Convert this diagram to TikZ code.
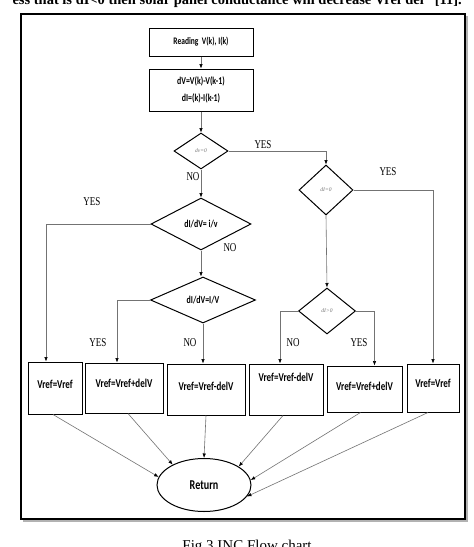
\documentclass[tikz,border=0pt]{standalone}
\usepackage{fontspec}
\setmainfont{Liberation Serif}
\newfontfamily\calib{Carlito}
\usetikzlibrary{shapes.geometric,arrows.meta}
\newcommand\sq[1]{\scalebox{0.75}[1]{#1}}
\newcommand\bt[2]{\raisebox{#1}[\height][\depth]{\sq{#2}}}
\tikzset{
  box/.style={draw=black, line width=1pt, rectangle, inner sep=0pt, font=\calib\bfseries\fontsize{12}{14}\selectfont},
  dia/.style={draw=black, line width=1pt, diamond, inner sep=0pt},
  tiny/.style={font=\itshape\fontsize{5.5}{6}\selectfont, text=black!55},
  conn/.style={draw=black!55, line width=0.6pt, -{Latex[length=4.5pt,width=3.5pt,color=black]}},
  lbl/.style={font=\fontsize{12}{14}\selectfont, inner sep=0pt},
}
\begin{document}
\begin{tikzpicture}[x=1pt,y=-1pt]
\clip (0,0) rectangle (474,547);
\fill[white] (0,0) rectangle (474,547);
% clipped text lines
\node[anchor=base east, inner sep=0pt, font=\bfseries\fontsize{14.5}{15}\selectfont] (toptext) at (462,4)
  {ess that is dI<0 then solar panel conductance will decrease Vref del" [11].};
\node[anchor=base, inner sep=0pt, font=\fontsize{15}{16}\selectfont] (caption) at (247,550) {Fig 3 INC Flow chart};
% frame with shadow
\draw[black!30, line width=2.5pt] (24,17) rectangle (467,521);
\draw[black, line width=1.5pt, fill=white] (21,14) rectangle (465,519);
% process boxes
\node[box, minimum width=104, minimum height=28, font=\calib\bfseries\fontsize{10}{12}\selectfont] (read) at (201,42) {\sq{Reading~ V(k), I(k)}};
\node[box, minimum width=104, minimum height=42, align=center, font=\calib\bfseries\fontsize{10.5}{17}\selectfont] (dv) at (201,90) {\sq{dV=V(k)-V(k-1)}\\\sq{dI=(k)-I(k-1)}};
% decisions
\node[dia, minimum width=54, minimum height=36, tiny] (d1) at (201,151) {dv=0};
\node[dia, minimum width=54, minimum height=50, tiny] (d2) at (326,190) {dI=0};
\node[dia, minimum width=100, minimum height=52, font=\calib\bfseries\fontsize{10.5}{12}\selectfont] (d3) at (201,224) {\sq{dI/dV= i/v}};
\node[dia, minimum width=105, minimum height=46, font=\calib\bfseries\fontsize{10.5}{12}\selectfont] (d4) at (203,300) {\sq{dI/dV=I/V}};
\node[dia, minimum width=57, minimum height=46, tiny] (d5) at (327,311) {dI>0};
% result boxes
\node[box, minimum width=54, minimum height=52] (b1) at (55,388) {\bt{4pt}{Vref=Vref}};
\node[box, minimum width=78, minimum height=50] (b2) at (124,388) {\bt{5pt}{Vref=Vref+delV}};
\node[box, minimum width=78, minimum height=51] (b3) at (206,389.5) {\bt{3pt}{Vref=Vref-delV}};
\node[box, minimum width=74, minimum height=51] (b4) at (286,389.5) {\bt{12pt}{Vref=Vref-delV}};
\node[box, minimum width=75, minimum height=46] (b5) at (364.5,389) {\bt{3pt}{Vref=Vref+delV}};
\node[box, minimum width=52, minimum height=48] (b6) at (433,388) {\bt{5pt}{Vref=Vref}};
\node[draw=black, line width=1pt, ellipse, inner sep=0pt, minimum width=94, minimum height=53, font=\calib\bfseries\fontsize{13.5}{14}\selectfont] (ret) at (204,485) {\sq{Return}};
% connectors
\draw[conn] (read) -- (dv);
\draw[conn] (dv) -- (d1);
\draw[conn] (d1.east) -| (d2.north);
\draw[conn] (d1.south) -- (d3.north);
\draw[conn] (d3.west) -| ([xshift=-9pt]b1.north);
\draw[conn] (d3.south) -- (d3.south |- d4.north);
\draw[conn] (d4.west) -| ([xshift=-7pt]b2.north);
\draw[conn] (d4.south) -- (d4.south |- b3.north);
\draw[conn] (d2.east) -| (b6.north);
\draw[conn] (d2.south) -- (d5.north);
\draw[conn] (d5.west) -| ([xshift=-6pt]b4.north);
\draw[conn] (d5.east) -| ([xshift=10pt]b5.north);
\draw[conn] ([xshift=-2pt]b1.south) -- (ret.170);
\draw[conn] ([xshift=4pt]b2.south) -- (ret.147);
\draw[conn] (b3.south) -- (ret.north);
\draw[conn] ([xshift=-3pt]b4.south) -- (ret.28);
\draw[conn] ([xshift=-4pt]b5.south) -- (ret.6);
\draw[conn] ([xshift=-5pt]b6.south) -- (ret.-15);
% branch labels
\node[lbl] (y1) at (263,145) {\sq{YES}};
\node[lbl] (n1) at (193,177) {\sq{NO}};
\node[lbl] (y2) at (388,172) {\sq{YES}};
\node[lbl] (y3) at (92,202) {\sq{YES}};
\node[lbl] (n3) at (230,248) {\sq{NO}};
\node[lbl] (y4) at (98,343) {\sq{YES}};
\node[lbl] (n4) at (190,343) {\sq{NO}};
\node[lbl] (n5) at (293,343) {\sq{NO}};
\node[lbl] (y5) at (359,343) {\sq{YES}};
\end{tikzpicture}
\end{document}
